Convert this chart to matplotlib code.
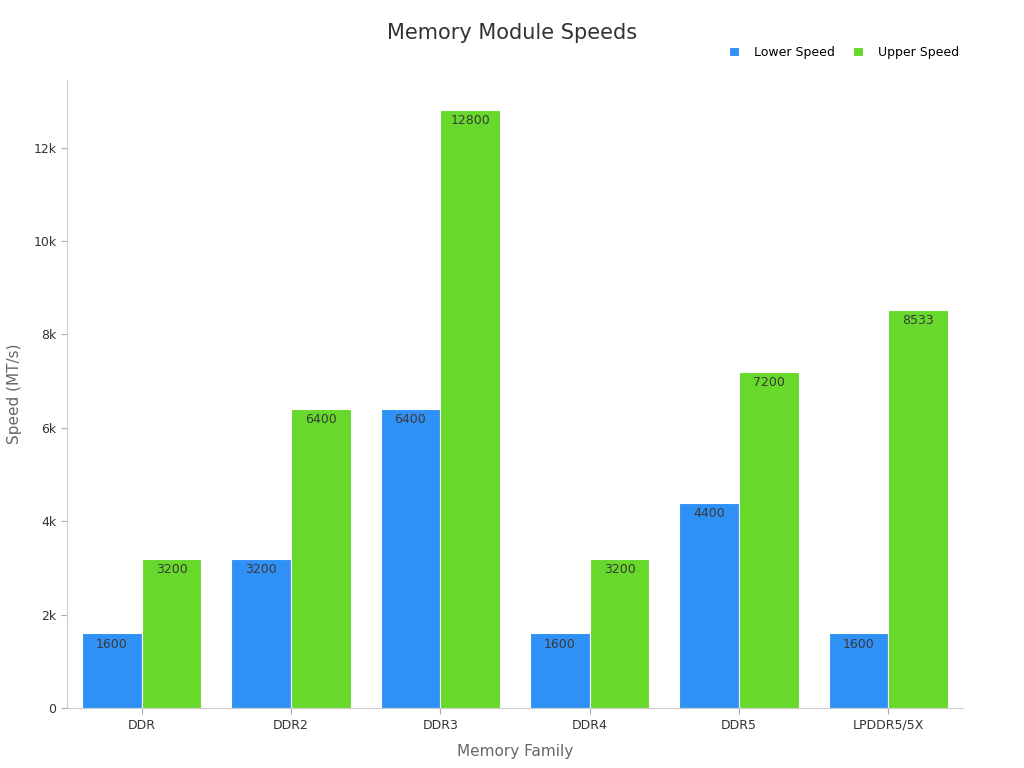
import numpy as np
import matplotlib
matplotlib.use("Agg")
from matplotlib import pyplot as plt
from matplotlib.ticker import FuncFormatter

families = ['DDR', 'DDR2', 'DDR3', 'DDR4', 'DDR5', 'LPDDR5/5X']
lower_speed = [1600, 3200, 6400, 1600, 4400, 1600]
upper_speed = [3200, 6400, 12800, 3200, 7200, 8533]

blue = '#2f91f5'
green = '#66d92a'

fig = plt.figure(figsize=(10.24, 7.68), dpi=100)
ax = fig.add_axes([0.0654, 0.078, 0.875, 0.818])

x = np.arange(len(families))
w = 0.4
b1 = ax.bar(x - w / 2, lower_speed, w, color=blue, edgecolor='white', linewidth=0.8, label='Lower Speed')
b2 = ax.bar(x + w / 2, upper_speed, w, color=green, edgecolor='white', linewidth=0.8, label='Upper Speed')

# value labels just inside the top of each bar
for bars in (b1, b2):
    for rect in bars:
        h = rect.get_height()
        ax.annotate(f'{int(h)}', (rect.get_x() + rect.get_width() / 2, h),
                    xytext=(0, -3), textcoords='offset points',
                    ha='center', va='top', fontsize=9, color='#3a3a3a')

ax.set_xlim(-0.5, len(families) - 0.5)
ax.set_ylim(0, 13450)
ax.set_xticks(x)
ax.set_xticklabels(families)
ax.set_yticks([0, 2000, 4000, 6000, 8000, 10000, 12000])
ax.yaxis.set_major_formatter(FuncFormatter(lambda v, p: '0' if v == 0 else f'{int(v/1000)}k'))
ax.tick_params(labelsize=9, colors='#333333', length=4)
ax.tick_params(axis='both', color='#aaaaaa')

for s in ('top', 'right'):
    ax.spines[s].set_visible(False)
for s in ('left', 'bottom'):
    ax.spines[s].set_color('#cccccc')

ax.set_xlabel('Memory Family', fontsize=11, color='#666666', labelpad=9)
ax.set_ylabel('Speed (MT/s)', fontsize=11, color='#666666', labelpad=8)
fig.suptitle('Memory Module Speeds', fontsize=15, color='#333333', y=0.97)

ax.legend(loc='upper right', bbox_to_anchor=(1.008, 1.072), ncol=2, frameon=False,
          fontsize=9, handlelength=0.8, handleheight=0.8, columnspacing=1.4, handletextpad=1.2)

fig.savefig('out.png', dpi=100)
